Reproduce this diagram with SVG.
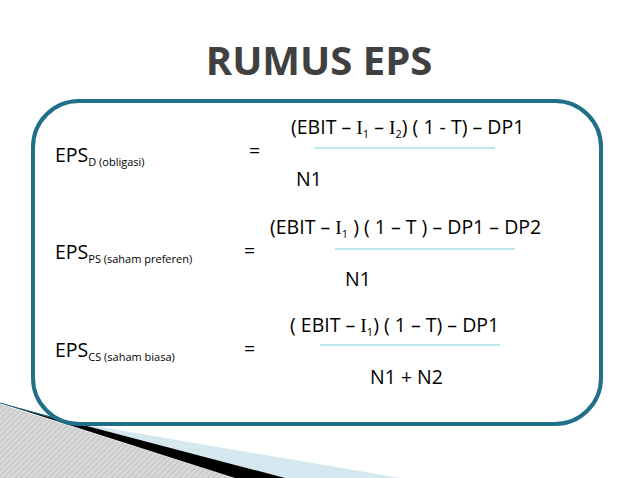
<svg xmlns="http://www.w3.org/2000/svg" width="638" height="478" viewBox="0 0 638 478">
<defs>
<pattern id="h" width="4" height="4" patternUnits="userSpaceOnUse" patternTransform="rotate(45)"><rect width="4" height="4" fill="#d8d8d8"/><line x1="0" y1="0" x2="0" y2="4" stroke="#bbb" stroke-width="1.5"/></pattern>
<style>
text{font-family:"Open Sans","Noto Sans",sans-serif;fill:#000;font-size:19.5px}
.s{font-size:11px}
.i{font-family:"Liberation Serif",serif}
.fl{stroke:#5bc3dd;stroke-width:0.8}
</style>
</defs>
<rect width="638" height="478" fill="#fff"/>
<polygon points="60,420 400,478 260,478" fill="#d5e8f0"/>
<polygon points="0,404 235,478 0,478" fill="url(#h)"/>
<polygon points="0,403 45,415 285,478 235,478" fill="#000"/>
<line x1="0" y1="403" x2="60" y2="420" stroke="#1f7088" stroke-width="1"/>
<text x="319" y="75" text-anchor="middle" style="font-size:40px;font-weight:bold;fill:#404040">RUMUS EPS</text>
<rect id="box" x="33" y="101" width="568" height="323" rx="46" fill="none" stroke="#1f7088" stroke-width="4"/>
<g id="eq1">
<text x="55" y="162">EPS<tspan class="s" dy="4">D (obligasi)</tspan></text>
<text x="249" y="158">=</text>
<text x="291" y="134">(EBIT – <tspan class="i">I</tspan><tspan class="s" dy="4">1</tspan><tspan dy="-4"> – </tspan><tspan class="i">I</tspan><tspan class="s" dy="4">2</tspan><tspan dy="-4">) ( 1 - T) – DP1</tspan></text>
<line class="fl" x1="314" y1="148" x2="495" y2="148"/>
<text x="296" y="186">N1</text>
</g>
<g id="eq2">
<text x="55" y="259">EPS<tspan class="s" dy="4">PS (saham preferen)</tspan></text>
<text x="244" y="258">=</text>
<text x="270" y="234">(EBIT – <tspan class="i">I</tspan><tspan class="s" dy="4">1</tspan><tspan dy="-4"> ) ( 1 – T ) – DP1 – DP2</tspan></text>
<line class="fl" x1="335" y1="249" x2="515" y2="249"/>
<text x="345" y="286">N1</text>
</g>
<g id="eq3">
<text x="55" y="357">EPS<tspan class="s" dy="4">CS (saham biasa)</tspan></text>
<text x="244" y="356">=</text>
<text x="290" y="332">( EBIT – <tspan class="i">I</tspan><tspan class="s" dy="4">1</tspan><tspan dy="-4">) ( 1 – T) – DP1</tspan></text>
<line class="fl" x1="320" y1="345" x2="500" y2="345"/>
<text x="370" y="384">N1 + N2</text>
</g>
</svg>
